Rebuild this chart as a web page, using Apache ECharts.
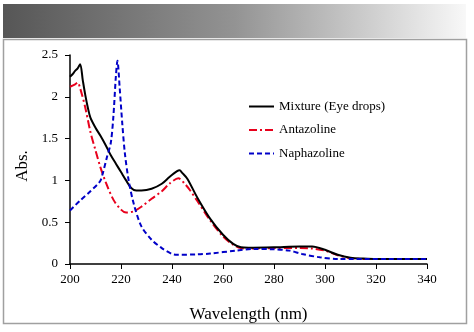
<!DOCTYPE html>
<html><head><meta charset="utf-8">
<script src="https://cdn.jsdelivr.net/npm/echarts@6/dist/echarts.min.js"></script>
<style>html,body{margin:0;padding:0;background:#fff;}#c{width:474px;height:332px;}</style>
</head><body><div id="c"></div>
<script>
const xTicks = [200, 220, 240, 260, 280, 300, 320, 340];
const yTicks = [0, 0.5, 1, 1.5, 2, 2.5];
const seriesNames = ['Mixture (Eye drops)', 'Antazoline', 'Naphazoline'];
const mixture = [[200,2.24],[201,2.27],[202,2.31],[203,2.34],[204,2.39],[205,2.2],[206,2.02],[207,1.87],[208,1.75],[210,1.63],[212,1.53],[214,1.42],[216,1.3],[218,1.2],[220,1.1],[222,1.0],[224,0.91],[226,0.88],[228,0.88],[232,0.9],[236,0.96],[239,1.04],[242,1.11],[243,1.12],[244,1.09],[246,1.02],[250,0.79],[255,0.54],[260,0.35],[264,0.24],[267,0.2],[270,0.195],[280,0.2],[290,0.21],[295,0.21],[300,0.17],[305,0.11],[310,0.075],[315,0.065],[320,0.06],[340,0.06]];
const antazoline = [[200,2.12],[202,2.15],[203,2.17],[204,2.1],[206,1.87],[208,1.58],[210,1.36],[212,1.15],[214,0.98],[217,0.77],[220,0.65],[222,0.615],[225,0.63],[228,0.685],[232,0.78],[236,0.87],[239,0.96],[242.5,1.025],[245,0.96],[247,0.885],[250,0.75],[255,0.52],[260,0.33],[264,0.23],[267,0.19],[270,0.185],[280,0.19],[290,0.19],[295,0.185],[300,0.16],[305,0.105],[310,0.07],[315,0.06],[340,0.06]];
const naphazoline = [[200,0.64],[204,0.76],[208,0.87],[211,0.96],[212,1.0],[213,1.1],[214.5,1.28],[216,1.45],[217,1.76],[218,2.25],[218.6,2.43],[219.5,2.1],[220.5,1.68],[221.5,1.33],[223,1.0],[225,0.72],[228,0.45],[232,0.29],[236,0.19],[240,0.12],[242,0.11],[250,0.115],[255,0.125],[265,0.16],[272,0.18],[280,0.176],[286,0.16],[291,0.12],[298,0.08],[305,0.06],[340,0.06]];

const font = 'Liberation Serif';
const chart = echarts.init(document.getElementById('c'), null, {renderer: 'canvas'});
chart.setOption({
  animation: false,
  backgroundColor: '#fff',
  graphic: [
    {type: 'rect', shape: {x: 3, y: 4, width: 463, height: 34},
     style: {fill: new echarts.graphic.LinearGradient(0, 0, 1, 0, [{offset: 0, color: '#565656'}, {offset: 0.5, color: '#939393'}, {offset: 1, color: '#f8f8f8'}]), stroke: null}, z: -1},
    {type: 'rect', shape: {x: 3.5, y: 39.5, width: 463, height: 284},
     style: {fill: null, stroke: '#a0a0a0', lineWidth: 1.5}, z: -1}
  ],
  grid: {left: 70, right: 47, top: 55, bottom: 68},
  legend: {
    orient: 'vertical', left: 243, top: 95, itemWidth: 25, itemHeight: 14, itemGap: 10.5,
    itemStyle: {opacity: 0},
    textStyle: {fontFamily: font, fontSize: 13, color: '#000'},
    data: seriesNames
  },
  xAxis: {
    type: 'value', min: xTicks[0], max: xTicks[xTicks.length - 1], interval: 20,
    name: 'Wavelength (nm)', nameLocation: 'middle', nameGap: 42,
    nameTextStyle: {fontFamily: font, fontSize: 17, color: '#000'},
    axisLine: {lineStyle: {color: '#000', width: 1.5}},
    axisTick: {show: true, length: 5, lineStyle: {color: '#000'}},
    axisLabel: {fontFamily: font, fontSize: 13, color: '#000', margin: 9},
    splitLine: {show: false}
  },
  yAxis: {
    type: 'value', min: yTicks[0], max: yTicks[yTicks.length - 1], interval: 0.5,
    name: 'Abs.', nameLocation: 'middle', nameGap: 35, nameRotate: 90,
    nameTextStyle: {fontFamily: font, fontSize: 17, color: '#000', padding: [0, 13, 0, 0]},
    axisLine: {show: true, lineStyle: {color: '#000', width: 1.5}},
    axisTick: {show: true, length: 5, lineStyle: {color: '#000'}},
    axisLabel: {fontFamily: font, fontSize: 13, color: '#000', margin: 12},
    splitLine: {show: false}
  },
  series: [
    {name: seriesNames[0], type: 'line', data: mixture, smooth: 0.3, symbol: 'none',
     lineStyle: {color: '#000', width: 2}, itemStyle: {color: '#000'}, z: 3},
    {name: seriesNames[1], type: 'line', data: antazoline, smooth: 0.3, symbol: 'none',
     lineStyle: {color: '#e8001c', width: 2, type: [8, 3, 2, 3]}, itemStyle: {color: '#e8001c'}, z: 2},
    {name: seriesNames[2], type: 'line', data: naphazoline, smooth: 0.3, symbol: 'none',
     lineStyle: {color: '#0000c8', width: 2, type: [5, 3]}, itemStyle: {color: '#0000c8'}, z: 4}
  ]
});
</script></body></html>
